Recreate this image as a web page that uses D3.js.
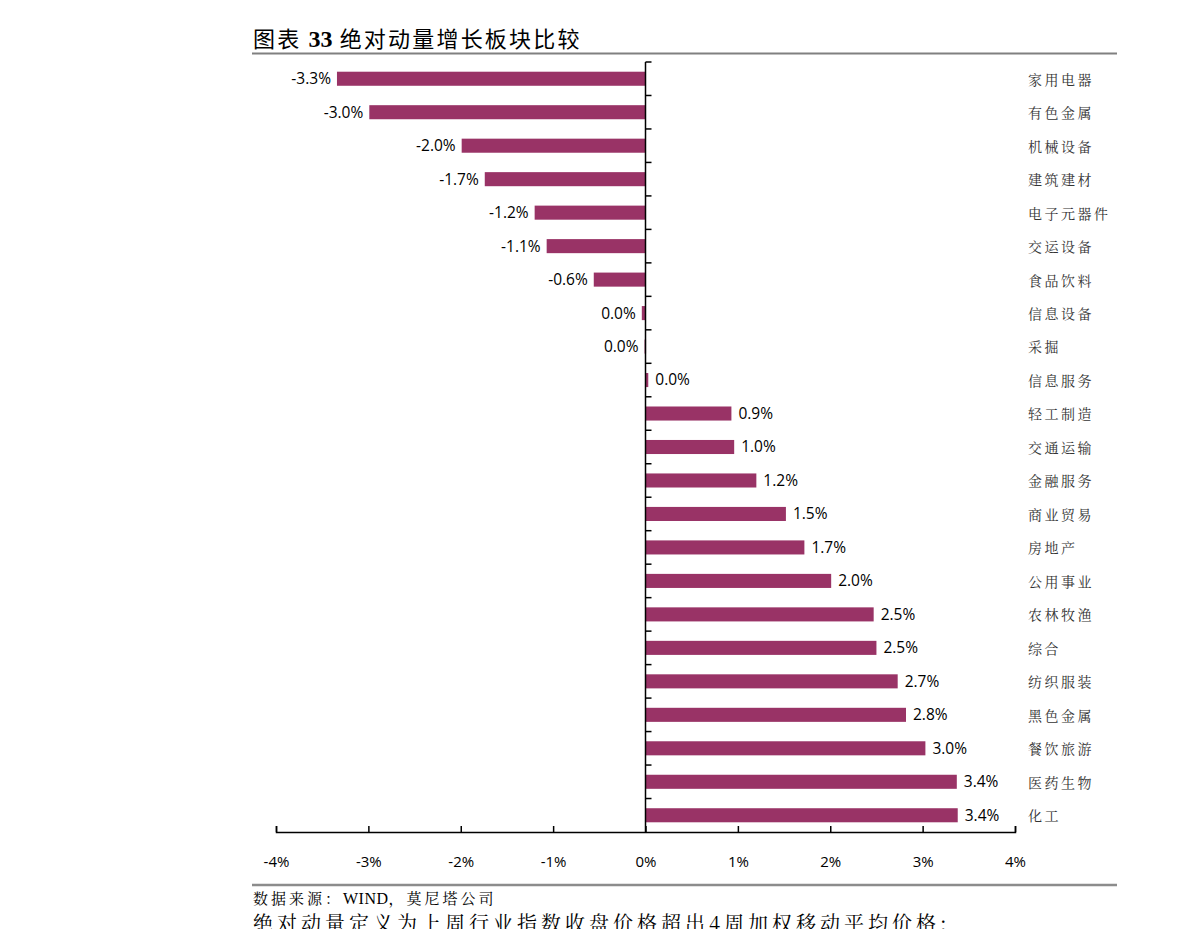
<!DOCTYPE html>
<html><head><meta charset="utf-8">
<script src="https://cdn.jsdelivr.net/npm/d3@7"></script>
<style>
body{margin:0;background:#fff;}
svg{display:block;}
</style></head>
<body>
<svg id="c" width="1191" height="929"></svg>
<script>
const categories = ["家用电器","有色金属","机械设备","建筑建材","电子元器件","交运设备","食品饮料","信息设备","采掘","信息服务","轻工制造","交通运输","金融服务","商业贸易","房地产","公用事业","农林牧渔","综合","纺织服装","黑色金属","餐饮旅游","医药生物","化工"];
const values = [-3.34,-2.99,-1.99,-1.74,-1.20,-1.07,-0.56,-0.04,-0.01,0.03,0.93,0.96,1.20,1.52,1.72,2.01,2.47,2.50,2.73,2.82,3.03,3.37,3.38];
const xTicks = [-4,-3,-2,-1,0,1,2,3,4];
const titleText = "图表 33 绝对动量增长板块比较";
const sourceText = "数据来源：WIND，莫尼塔公司";
const noteText = "绝对动量定义为上周行业指数收盘价格超出4周加权移动平均价格:";

const svg = d3.select("#c");
const x = d3.scaleLinear().domain([-4,4]).range([276,1015]);
const y = d3.scaleBand().domain(categories).range([62,832]).paddingInner(0.58).paddingOuter(0.29);
const barColor = "#993366";
const numFont = "'Open Sans', 'Liberation Sans', sans-serif";
const cjkSerif = "'Noto Serif CJK SC','Noto Sans CJK SC', serif";

// title
const t = svg.append("text").attr("x",253).attr("y",47).attr("font-size",22).attr("letter-spacing",2.2)
  .attr("font-family","'Noto Sans CJK SC', sans-serif").attr("fill","#000");
t.append("tspan").text("图表 ");
t.append("tspan").text("33").attr("font-weight","bold").attr("font-family","'Liberation Serif', serif").attr("font-size",24).attr("letter-spacing",0);
t.append("tspan").text(" 绝对动量增长板块比较");
svg.append("line").attr("x1",252).attr("x2",1117).attr("y1",53.5).attr("y2",53.5).attr("stroke","#808080").attr("stroke-width",2);

// bars
svg.append("g").selectAll("rect").data(values).join("rect")
  .attr("x",(d)=>x(Math.min(0,d)))
  .attr("y",(d,i)=>y(categories[i]))
  .attr("width",(d)=>Math.max(1.5,Math.abs(x(d)-x(0))))
  .attr("height",y.bandwidth())
  .attr("fill",barColor);

// value labels
const fmt = d3.format(".1f");
const lab = v => { let s = fmt(v).replace("\u2212","-"); if (s==="-0.0") s="0.0"; return s+"%"; };
svg.append("g").selectAll("text").data(values).join("text")
  .attr("x",d=> d<0 ? x(d)-6 : x(d)+7)
  .attr("y",(d,i)=>y(categories[i])+y.bandwidth()/2)
  .attr("dy","0.35em")
  .attr("text-anchor",d=> d<0 ? "end":"start")
  .attr("font-size",15.5).attr("font-family",numFont).attr("fill","#000")
  .text(lab);

// x axis
const xa = svg.append("g").attr("transform","translate(0,832)")
  .call(d3.axisBottom(x).tickValues(xTicks).tickSizeInner(-6).tickSizeOuter(-6).tickFormat(d=>d+"%").tickPadding(24));
xa.select(".domain").attr("stroke","#000").attr("stroke-width",1.5);
xa.selectAll(".tick line").attr("stroke","#000").attr("stroke-width",1.5);
xa.selectAll(".tick text").attr("font-size",15).attr("font-family",numFont).attr("fill","#000");

// y axis at zero
const step = y.step();
const bounds = d3.range(categories.length).map(i=>62+i*step);
const ya = svg.append("g");
ya.append("line").attr("x1",x(0)).attr("x2",x(0)).attr("y1",62).attr("y2",832).attr("stroke","#000").attr("stroke-width",1.5);
ya.selectAll("line.tk").data(bounds).join("line").attr("class","tk")
  .attr("x1",x(0)).attr("x2",x(0)+6).attr("y1",d=>d).attr("y2",d=>d).attr("stroke","#000").attr("stroke-width",1.5);

// category labels
svg.append("g").selectAll("text").data(categories).join("text")
  .attr("x",1028)
  .attr("y",d=>y(d)+y.bandwidth()/2+1)
  .attr("dy","0.35em")
  .attr("font-size",14).attr("letter-spacing",2.5).attr("font-family",cjkSerif).attr("fill","#333")
  .text(d=>d);

// footer
svg.append("line").attr("x1",252).attr("x2",1117).attr("y1",885).attr("y2",885).attr("stroke","#8c8c8c").attr("stroke-width",2.5);
const s = svg.append("text").attr("x",253).attr("y",904).attr("font-size",15).attr("letter-spacing",3).attr("font-family",cjkSerif).attr("fill","#000");
s.append("tspan").text("数据来源：");
s.append("tspan").text("WIND").attr("font-family","'Liberation Serif', serif").attr("font-size",16).attr("letter-spacing",0.5);
s.append("tspan").text("，莫尼塔公司");
svg.append("text").attr("x",253).attr("y",931).attr("font-size",20).attr("letter-spacing",4).attr("font-family",cjkSerif).attr("fill","#000").text(noteText);
</script>
</body></html>
